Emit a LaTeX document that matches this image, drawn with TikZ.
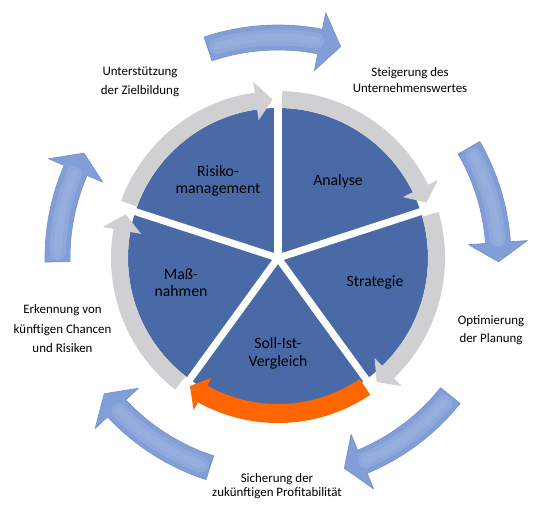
\documentclass[tikz,border=0pt]{standalone}
\usepackage{fontspec}
\setmainfont{Carlito}
\usepackage{tikz}
\definecolor{pieblue}{RGB}{73,106,166}
\definecolor{ringgray}{RGB}{208,207,210}
\definecolor{ringorange}{RGB}{255,102,0}
\definecolor{cycleblue}{RGB}{130,158,214}
\definecolor{cycleedge}{RGB}{116,146,208}
\definecolor{cyclelight}{RGB}{158,182,227}
\begin{document}
\begin{tikzpicture}[x=.75pt,y=.75pt,
  slicetext/.style={font=\fontsize{11.8}{13.2}\selectfont,align=center},
  goaltext/.style={font=\fontsize{9.7}{14}\selectfont,align=center},
  slitline/.style={white,line width=5.3pt},
  cyclearrow/.style={fill=cycleblue,draw=cycleedge,line width=.5pt,line join=round},
  bevelline/.style={cyclelight,line width=12pt,opacity=.45,line cap=round},
  bevelcore/.style={cyclelight,line width=6pt,opacity=.45,line cap=round}]
\useasboundingbox(-278,-252)rectangle(262,258);
\fill[pieblue](0,0)circle[radius=150];
\fill[ringgray](88.5:150)arc[start angle=88.5,end angle=26,radius=150]--(26:139)--(20.5:158.5)--(26:178)--(26:167)arc[start angle=26,end angle=88.5,radius=167]--cycle;
\fill[ringgray](16:150)arc[start angle=16,end angle=-46,radius=150]--(-46:139)--(-51.5:158.5)--(-46:178)--(-46:167)arc[start angle=-46,end angle=16,radius=167]--cycle;
\fill[ringorange](-56:146)arc[start angle=-56,end angle=-119,radius=146]--(-119:137)--(-124.5:155.5)--(-119:174)--(-119:165)arc[start angle=-119,end angle=-56,radius=165]--cycle;
\fill[ringgray](232:150)arc[start angle=232,end angle=170,radius=150]--(170:139)--(164:158.5)--(170:178)--(170:167)arc[start angle=170,end angle=232,radius=167]--cycle;
\fill[ringgray](160:150)arc[start angle=160,end angle=98,radius=150]--(98:139)--(92:158.5)--(98:178)--(98:167)arc[start angle=98,end angle=160,radius=167]--cycle;
\draw[slitline](0,0)--(90:168);\draw[slitline](0,0)--(18:168);\draw[slitline](0,0)--(-54:168);\draw[slitline](0,0)--(-126:168);\draw[slitline](0,0)--(162:168);
\node[slicetext](risiko)at(-60,77){Risiko-\\management};
\node[slicetext](analyse)at(60,77){Analyse};
\node[slicetext](strategie)at(97,-24){Strategie};
\node[slicetext](massnahmen)at(-97,-24.5){Maß-\\nahmen};
\node[slicetext](sollist)at(0,-95.5){Soll-Ist-\\Vergleich};
\filldraw[cyclearrow](108.5:208)arc[start angle=108.5,end angle=79,radius=208]--(79:191)--(73.5:220.5)--(79:250)--(79:233)arc[start angle=79,end angle=108.5,radius=233]--cycle;\draw[bevelline](106:220.5)arc[start angle=106,end angle=80,radius=220.5];\draw[bevelcore](106:220.5)arc[start angle=106,end angle=80,radius=220.5];
\filldraw[cyclearrow](30:208)arc[start angle=30,end angle=4,radius=208]--(4:191)--(-1:220.5)--(4:250)--(4:233)arc[start angle=4,end angle=30,radius=233]--cycle;\draw[bevelline](27.5:220.5)arc[start angle=27.5,end angle=5,radius=220.5];\draw[bevelcore](27.5:220.5)arc[start angle=27.5,end angle=5,radius=220.5];
\filldraw[cyclearrow](-38.6:208)arc[start angle=-38.6,end angle=-67.5,radius=208]--(-67.5:191)--(-72.5:220.5)--(-67.5:250)--(-67.5:233)arc[start angle=-67.5,end angle=-38.6,radius=233]--cycle;\draw[bevelline](-41:220.5)arc[start angle=-41,end angle=-66.5,radius=220.5];\draw[bevelcore](-41:220.5)arc[start angle=-41,end angle=-66.5,radius=220.5];
\filldraw[cyclearrow](-108:208)arc[start angle=-108,end angle=-137,radius=208]--(-137:191)--(-142:220.5)--(-137:250)--(-137:233)arc[start angle=-137,end angle=-108,radius=233]--cycle;\draw[bevelline](-110.5:220.5)arc[start angle=-110.5,end angle=-136,radius=220.5];\draw[bevelcore](-110.5:220.5)arc[start angle=-110.5,end angle=-136,radius=220.5];
\filldraw[cyclearrow](181:208)arc[start angle=181,end angle=156.6,radius=208]--(156.6:191)--(151.6:220.5)--(156.6:250)--(156.6:233)arc[start angle=156.6,end angle=181,radius=233]--cycle;\draw[bevelline](178.5:220.5)arc[start angle=178.5,end angle=157.6,radius=220.5];\draw[bevelcore](178.5:220.5)arc[start angle=178.5,end angle=157.6,radius=220.5];
\node[goaltext](zielbildung)at(-138,176){Unterstützung\\der Zielbildung};
\node[goaltext,font=\fontsize{9.7}{12}\selectfont](unternehmenswert)at(132,178){Steigerung des\\Unternehmenswertes};
\node[goaltext](planung)at(213,-72){Optimierung\\der Planung};
\node[goaltext,font=\fontsize{9.7}{10.7}\selectfont](profitabilitaet)at(-1,-228){Sicherung der\\zukünftigen Profitabilität};
\node[goaltext,font=\fontsize{9.7}{14.6}\selectfont](chancen)at(-215.5,-71){Erkennung von\\künftigen Chancen\\und Risiken};
\end{tikzpicture}
\end{document}
